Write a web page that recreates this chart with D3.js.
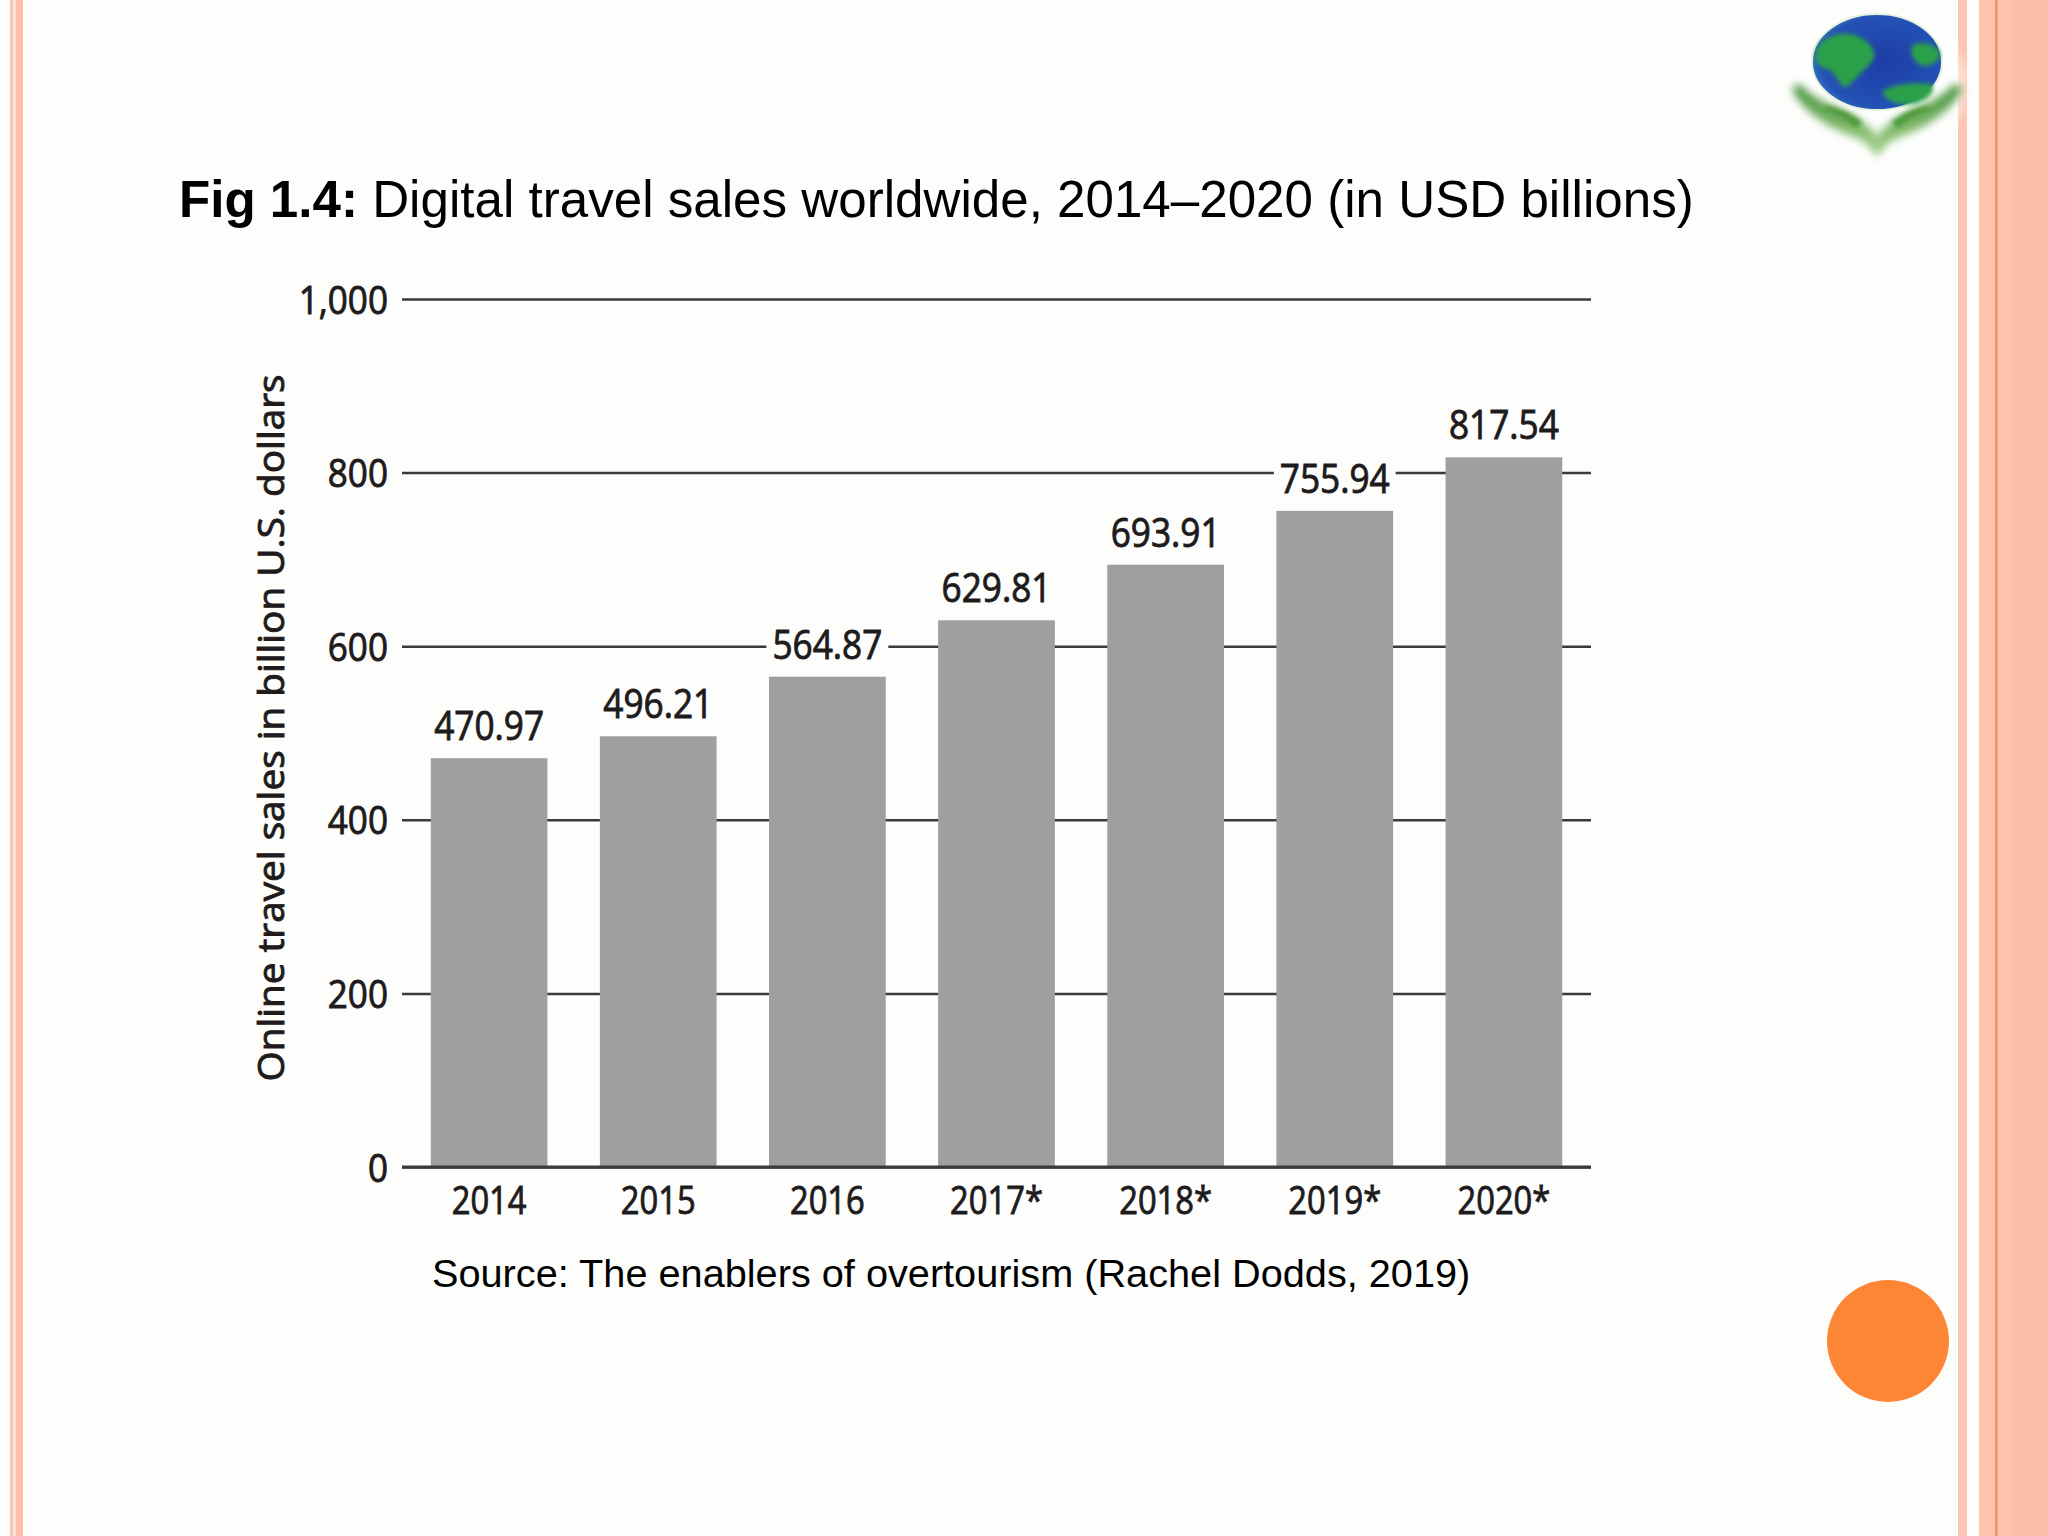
<!DOCTYPE html>
<html>
<head>
<meta charset="utf-8">
<script src="https://cdn.jsdelivr.net/npm/d3@7"></script>
<style>
  html, body { margin: 0; padding: 0; background: #fdfdfb; }
  svg { display: block; }
</style>
</head>
<body>
<svg id="chart" width="2048" height="1536"></svg>
<script>
// ---------- data ----------
const categories = ["2014", "2015", "2016", "2017*", "2018*", "2019*", "2020*"];
const salesValues = [470.97, 496.21, 564.87, 629.81, 693.91, 755.94, 817.54];
const valueLabels = ["470.97", "496.21", "564.87", "629.81", "693.91", "755.94", "817.54"];
const yTicks = [0, 200, 400, 600, 800, 1000];
const titleBold = "Fig 1.4:";
const titleRest = " Digital travel sales worldwide, 2014\u20132020 (in USD billions)";
const yAxisTitle = "Online travel sales in billion U.S. dollars";
const sourceText = "Source: The enablers of overtourism (Rachel Dodds, 2019)";

// ---------- setup ----------
const svg = d3.select("#chart");
const chartFont = "'Open Sans', 'Noto Sans', sans-serif";
const textColor = "#1e1b1c";
const narrow = 0.88;
const thick = 0.9;

// background
svg.append("rect").attr("width", 2048).attr("height", 1536).attr("fill", "#fdfdfb");

// left border stripes
svg.append("rect").attr("x", 10).attr("y", 0).attr("width", 3).attr("height", 1536).attr("fill", "#f3c6b8");
svg.append("rect").attr("x", 13).attr("y", 0).attr("width", 3).attr("height", 1536).attr("fill", "#fae4da");
svg.append("rect").attr("x", 16).attr("y", 0).attr("width", 7).attr("height", 1536).attr("fill", "#fdbfa6");

// right border stripes
svg.append("rect").attr("x", 1958).attr("y", 0).attr("width", 9).attr("height", 1536).attr("fill", "#fdc6b1");
svg.append("rect").attr("x", 1979).attr("y", 0).attr("width", 69).attr("height", 1536).attr("fill", "#fdc5af");
svg.append("rect").attr("x", 2012).attr("y", 0).attr("width", 36).attr("height", 1536).attr("fill", "#fbbfa7");
svg.append("rect").attr("x", 1995).attr("y", 0).attr("width", 2.5).attr("height", 1536).attr("fill", "#f5925a");

// ---------- logo ----------
const defs = svg.append("defs");
const halo = defs.append("radialGradient").attr("id", "halo");
halo.append("stop").attr("offset", "0.72").attr("stop-color", "#ffffff").attr("stop-opacity", 1);
halo.append("stop").attr("offset", "1").attr("stop-color", "#ffffff").attr("stop-opacity", 0);
const globeGrad = defs.append("radialGradient").attr("id", "globeGrad").attr("cx", "0.55").attr("cy", "0.5").attr("r", "0.6");
globeGrad.append("stop").attr("offset", "0").attr("stop-color", "#1d3ca6");
globeGrad.append("stop").attr("offset", "0.8").attr("stop-color", "#2452b6");
globeGrad.append("stop").attr("offset", "1").attr("stop-color", "#3a86c0");
const handGrad = defs.append("linearGradient").attr("id", "handGrad").attr("x1", 0).attr("y1", 0).attr("x2", 0).attr("y2", 1);
handGrad.append("stop").attr("offset", "0").attr("stop-color", "#3f8f34");
handGrad.append("stop").attr("offset", "1").attr("stop-color", "#a9d48e");
const blurF = defs.append("filter").attr("id", "soft").attr("x", "-20%").attr("y", "-20%").attr("width", "140%").attr("height", "140%");
blurF.append("feGaussianBlur").attr("stdDeviation", 2.2);
const blurH = defs.append("filter").attr("id", "softer").attr("x", "-20%").attr("y", "-20%").attr("width", "140%").attr("height", "140%");
blurH.append("feGaussianBlur").attr("stdDeviation", 4);

const logo = svg.append("g");
logo.append("ellipse").attr("cx", 1876).attr("cy", 86).attr("rx", 98).attr("ry", 80).attr("fill", "url(#halo)");
// hands
logo.append("path")
  .attr("d", "M1792,88 C1800,108 1822,124 1846,134 C1862,140 1872,146 1877,156 L1882,144 C1874,128 1860,118 1842,110 C1824,102 1810,96 1800,84 Z")
  .attr("fill", "url(#handGrad)").attr("filter", "url(#softer)");
logo.append("path")
  .attr("d", "M1962,88 C1954,108 1932,124 1908,134 C1892,140 1882,146 1877,156 L1872,144 C1880,128 1894,118 1912,110 C1930,102 1944,96 1954,84 Z")
  .attr("fill", "url(#handGrad)").attr("filter", "url(#softer)");
logo.append("path")
  .attr("d", "M1826,106 C1840,108 1852,114 1862,122 L1856,128 C1846,120 1836,114 1824,110 Z")
  .attr("fill", "#4f9a3c").attr("filter", "url(#soft)");
logo.append("path")
  .attr("d", "M1928,106 C1914,108 1902,114 1892,122 L1898,128 C1908,120 1918,114 1930,110 Z")
  .attr("fill", "#4f9a3c").attr("filter", "url(#soft)");
// globe
logo.append("ellipse").attr("cx", 1877).attr("cy", 62).attr("rx", 65).attr("ry", 48)
  .attr("fill", "url(#globeGrad)").attr("stroke", "#e6f1de").attr("stroke-width", 2);
logo.append("path")
  .attr("d", "M1816,54 C1818,40 1834,32 1850,34 C1862,36 1872,44 1874,52 C1876,60 1868,66 1864,70 C1858,76 1852,82 1846,88 C1838,84 1836,74 1830,70 C1820,68 1814,62 1816,54 Z")
  .attr("fill", "#2aa048").attr("filter", "url(#soft)");
logo.append("path")
  .attr("d", "M1882,92 C1892,84 1912,82 1932,84 C1936,92 1928,100 1914,104 C1900,106 1886,102 1882,92 Z")
  .attr("fill", "#2aa048").attr("filter", "url(#soft)");
logo.append("path")
  .attr("d", "M1912,46 C1922,40 1934,44 1940,52 C1940,62 1932,66 1922,66 C1914,62 1910,54 1912,46 Z")
  .attr("fill", "#2aa048").attr("filter", "url(#soft)");

// orange circle
svg.append("circle").attr("cx", 1888).attr("cy", 1341).attr("r", 61).attr("fill", "#fd8636");

// ---------- title ----------
const title = svg.append("text")
  .attr("x", 179).attr("y", 217)
  .attr("font-family", "'Liberation Sans', Arial, sans-serif")
  .attr("font-size", 51).attr("fill", "#000");
title.append("tspan").attr("font-weight", "bold").text(titleBold);
title.append("tspan").text(titleRest);
{
  const w = title.node().getComputedTextLength();
  const s = 1515 / w;
  title.attr("transform", `translate(179,0) scale(${s},1) translate(-179,0)`);
}

// ---------- chart ----------
const x = d3.scaleBand().domain(categories).range([402, 1591]).paddingInner(0.31).paddingOuter(0.17);
const y = d3.scaleLinear().domain([0, 1000]).range([1167, 299]);

// gridlines + y labels
const yAxis = d3.axisLeft(y).tickValues(yTicks).tickFormat(d3.format(",")).tickSize(-(1591 - 402)).tickPadding(14);
const gy = svg.append("g").attr("transform", "translate(402,0)").call(yAxis);
gy.select(".domain").remove();
gy.selectAll(".tick line").attr("stroke", "#3a3a3a").attr("stroke-width", 2.5);
gy.selectAll(".tick text")
  .attr("font-family", chartFont).attr("font-size", 39).attr("fill", textColor)
  .attr("stroke", textColor).attr("stroke-width", thick)
  .attr("dy", "0.36em")
  .attr("transform", "translate(-14,0) scale(0.9,1) translate(14,0)");

// bars
svg.append("g").selectAll("rect").data(salesValues).join("rect")
  .attr("x", (d, i) => x(categories[i]))
  .attr("y", d => y(d))
  .attr("width", x.bandwidth())
  .attr("height", d => y(0) - y(d))
  .attr("fill", "#9f9ea0");

// baseline over bars
svg.append("line").attr("x1", 402).attr("x2", 1591).attr("y1", y(0)).attr("y2", y(0))
  .attr("stroke", "#3a3a3a").attr("stroke-width", 3);

// x axis labels
const xAxis = d3.axisBottom(x).tickSize(0);
const gx = svg.append("g").attr("transform", `translate(0,${y(0)})`).call(xAxis);
gx.select(".domain").remove();
gx.selectAll(".tick text")
  .attr("font-family", chartFont).attr("font-size", 39).attr("fill", textColor)
  .attr("stroke", textColor).attr("stroke-width", thick)
  .attr("y", 47).attr("dy", 0)
  .attr("transform", `scale(${narrow - 0.04},1)`);

// value labels with white knock-out
const lbl = svg.append("g").selectAll("g").data(salesValues).join("g");
lbl.each(function (d, i) {
  const g = d3.select(this);
  const cx = x(categories[i]) + x.bandwidth() / 2;
  const by = y(d) - 18;
  g.attr("transform", `translate(${cx},${by})`);
  const bg = g.append("rect").attr("fill", "#fdfdfb");
  const t = g.append("text")
    .attr("x", 0).attr("y", 0)
    .attr("text-anchor", "middle")
    .attr("font-family", chartFont).attr("font-size", 40).attr("fill", textColor)
    .attr("stroke", textColor).attr("stroke-width", thick)
    .attr("transform", `scale(${narrow},1)`)
    .text(valueLabels[i]);
  const bb = t.node().getBBox();
  bg.attr("x", bb.x * narrow - 6).attr("y", bb.y).attr("width", bb.width * narrow + 12).attr("height", bb.height);
});

// y axis title
svg.append("text")
  .attr("transform", "translate(284,728) rotate(-90)")
  .attr("text-anchor", "middle")
  .attr("font-family", chartFont).attr("font-size", 37).attr("fill", textColor)
  .attr("stroke", textColor).attr("stroke-width", thick)
  .attr("textLength", 707).attr("lengthAdjust", "spacingAndGlyphs")
  .text(yAxisTitle);

// source
svg.append("text")
  .attr("x", 432).attr("y", 1287)
  .attr("font-family", "'Liberation Sans', Arial, sans-serif")
  .attr("font-size", 39.7).attr("fill", "#000")
  .text(sourceText);
</script>
</body>
</html>
